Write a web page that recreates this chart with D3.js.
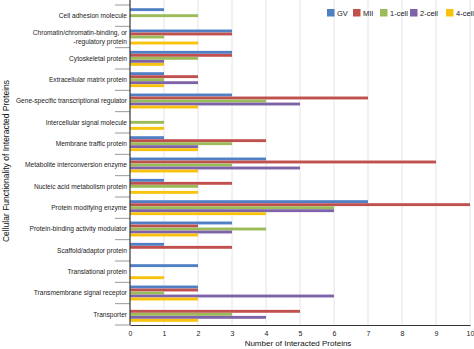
<!DOCTYPE html>
<html>
<head>
<meta charset="utf-8">
<script src="https://cdn.jsdelivr.net/npm/d3@7"></script>
<style>
  body { margin: 0; background: #fff; }
  svg { font-family: "Liberation Sans", Arial, sans-serif; }
</style>
</head>
<body>
<svg id="chart" width="474" height="349"></svg>
<script>
const categories = [
  'Cell adhesion molecule',
  'Chromatin/chromatin-binding, or\n-regulatory protein',
  'Cytoskeletal protein',
  'Extracellular matrix protein',
  'Gene-specific transcriptional regulator',
  'Intercellular signal molecule',
  'Membrane traffic protein',
  'Metabolite interconversion enzyme',
  'Nucleic acid metabolism protein',
  'Protein modifying enzyme',
  'Protein-binding activity modulator',
  'Scaffold/adaptor protein',
  'Translational protein',
  'Transmembrane signal receptor',
  'Transporter'
];
const series = ['GV', 'MII', '1-cell', '2-cell', '4-cell'];
const colors = ['#4F7FC4', '#C0504D', '#9BBB59', '#7F63A8', '#F9C20F'];

const gv    = [1, 3, 3, 1, 3, 0, 1, 4, 1, 7, 3, 1, 2, 2, 0];
const mii   = [0, 3, 3, 2, 7, 0, 4, 9, 3, 10, 2, 3, 0, 2, 5];
const cell1 = [2, 1, 2, 1, 4, 1, 3, 3, 2, 6, 4, 0, 0, 1, 3];
const cell2 = [0, 0, 1, 2, 5, 0, 2, 5, 0, 6, 3, 0, 0, 6, 4];
const cell4 = [0, 2, 1, 1, 2, 1, 2, 2, 2, 4, 2, 0, 1, 2, 2];
const values = [gv, mii, cell1, cell2, cell4];
const xTicks = [0, 1, 2, 3, 4, 5, 6, 7, 8, 9, 10];

const svg = d3.select('#chart');
const mLeft = 130, mRight = 470, mTop = 5, mBottom = 325;

const x = d3.scaleLinear().domain([0, 10]).range([mLeft, mRight]);
const y0 = d3.scaleBand().domain(categories).range([mTop, mBottom]).padding(0);
const y1 = d3.scaleBand().domain(series)
  .range([3.2, y0.bandwidth() - 3.2]).paddingInner(0.04);

// grid
svg.append('g')
  .selectAll('line')
  .data(xTicks.slice(1))
  .enter().append('line')
  .attr('x1', d => x(d)).attr('x2', d => x(d))
  .attr('y1', 0).attr('y2', mBottom)
  .attr('stroke', '#e4e4e8').attr('stroke-width', 1);

// bars
const rows = [];
categories.forEach((c, i) => {
  series.forEach((s, j) => {
    rows.push({cat: c, s: s, v: values[j][i], color: colors[j]});
  });
});
svg.append('g')
  .selectAll('rect')
  .data(rows.filter(d => d.v > 0))
  .enter().append('rect')
  .attr('x', x(0))
  .attr('y', d => y0(d.cat) + y1(d.s))
  .attr('width', d => x(d.v) - x(0))
  .attr('height', y1.bandwidth())
  .attr('fill', d => d.color);

// left boundary ticks
const bounds = categories.map(c => y0(c)).concat([mBottom]);
svg.append('g')
  .selectAll('line')
  .data(bounds)
  .enter().append('line')
  .attr('x1', mLeft - 15).attr('x2', mLeft)
  .attr('y1', d => d).attr('y2', d => d)
  .attr('stroke', '#999').attr('stroke-width', 1);

// category labels
const lab = svg.append('g')
  .attr('font-size', 6.6).attr('fill', '#222').attr('text-anchor', 'end');
categories.forEach(c => {
  const lines = c.split('\n');
  const cy = y0(c) + y0.bandwidth() / 2;
  const t = lab.append('text').attr('x', mLeft - 3);
  lines.forEach((ln, k) => {
    t.append('tspan')
      .attr('x', mLeft - 3)
      .attr('y', cy + (k - (lines.length - 1) / 2) * 9)
      .attr('dy', '0.35em')
      .text(ln);
  });
});

// axes lines
svg.append('line')
  .attr('x1', mLeft).attr('x2', mLeft).attr('y1', 0).attr('y2', mBottom)
  .attr('stroke', '#333').attr('stroke-width', 1.2);

const xAxis = svg.append('g')
  .attr('transform', `translate(0,${mBottom})`)
  .call(d3.axisBottom(x).tickValues(xTicks).tickSize(0).tickPadding(6));
xAxis.select('.domain').attr('stroke', '#333').attr('stroke-width', 1.2);
xAxis.selectAll('text').attr('font-size', 7).attr('fill', '#222')
  .attr('font-family', '"Liberation Sans", Arial, sans-serif');

// axis titles
svg.append('text')
  .attr('x', 298).attr('y', 346)
  .attr('text-anchor', 'middle').attr('font-size', 8).attr('fill', '#111')
  .text('Number of Interacted Proteins');

svg.append('text')
  .attr('transform', 'translate(9,161) rotate(-90)')
  .attr('text-anchor', 'middle').attr('font-size', 8.5).attr('fill', '#111')
  .text('Cellular Functionality of Interacted Proteins');

// legend
const legendX = [327, 353, 380, 410, 446];
const leg = svg.append('g');
series.forEach((s, j) => {
  leg.append('rect')
    .attr('x', legendX[j]).attr('y', 9)
    .attr('width', 7.5).attr('height', 7.5)
    .attr('fill', colors[j]);
  leg.append('text')
    .attr('x', legendX[j] + 10).attr('y', 16)
    .attr('font-size', 7.5).attr('fill', '#222')
    .text(s);
});
</script>
</body>
</html>
